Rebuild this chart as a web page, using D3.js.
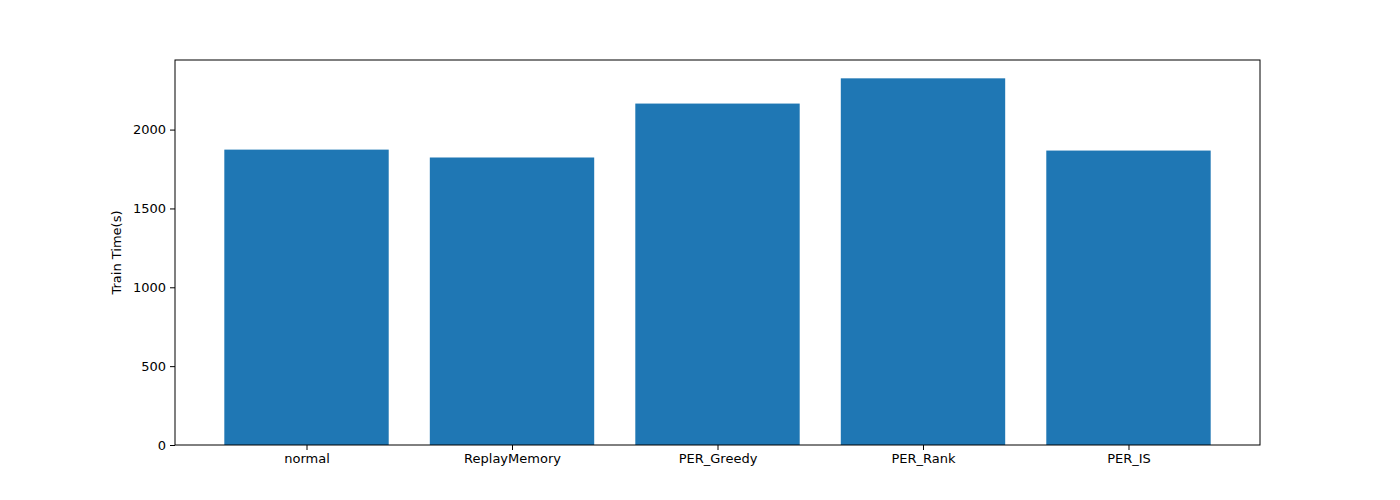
<!DOCTYPE html>
<html>
<head>
<meta charset="utf-8">
<script src="https://cdn.jsdelivr.net/npm/d3@7"></script>
<style>
body { margin: 0; background: #fff; }
text { font-family: "DejaVu Sans", sans-serif; }
</style>
</head>
<body>
<svg id="chart" width="1400" height="500"></svg>
<script>
// bar labels and train times (seconds)
var methods = ["normal", "ReplayMemory", "PER_Greedy", "PER_Rank", "PER_IS"];
var trainTimes = [1873, 1823, 2165, 2325, 1867];
var yTicks = [0, 500, 1000, 1500, 2000];

var plotLeft = 175, plotRight = 1260, plotTop = 60, plotBottom = 445;
var svg = d3.select("#chart");

var maxVal = d3.max(trainTimes) * 1.05;
var x = d3.scaleLinear().domain([-0.64, methods.length - 1 + 0.64]).range([plotLeft, plotRight]);
var y = d3.scaleLinear().domain([0, maxVal]).range([plotBottom, plotTop]);

svg.selectAll(".bar")
	.data(trainTimes)
	.enter()
	.append("rect")
	.attr("class", "bar")
	.attr("x", function(d, i) { return x(i - 0.4); })
	.attr("width", function() { return x(0.8) - x(0); })
	.attr("y", function(d) { return y(d); })
	.attr("height", function(d) { return y(0) - y(d); })
	.attr("fill", "#1f77b4");

var xAxis = d3.axisBottom(x)
	.tickValues(d3.range(methods.length))
	.tickFormat(function(d) { return methods[d]; })
	.tickSize(5).tickPadding(4);
var yAxis = d3.axisLeft(y).tickValues(yTicks).tickFormat(d3.format("d")).tickSize(5).tickPadding(4);

var gx = svg.append("g").attr("transform", "translate(0," + plotBottom + ")").call(xAxis);
var gy = svg.append("g").attr("transform", "translate(" + plotLeft + ",0)").call(yAxis);
[gx, gy].forEach(function(g) {
	g.select(".domain").remove();
	g.selectAll("text").attr("font-size", 13).attr("fill", "#000").style("font-family", "DejaVu Sans");
	g.selectAll("line").attr("stroke", "#000");
});

svg.append("rect")
	.attr("x", plotLeft).attr("y", plotTop)
	.attr("width", plotRight - plotLeft).attr("height", plotBottom - plotTop)
	.attr("fill", "none").attr("stroke", "#000").attr("stroke-width", 1);

svg.append("text")
	.attr("transform", "translate(121," + ((plotTop + plotBottom) / 2) + ") rotate(-90)")
	.attr("text-anchor", "middle")
	.attr("font-size", 13)
	.text("Train Time(s)");
</script>
</body>
</html>
